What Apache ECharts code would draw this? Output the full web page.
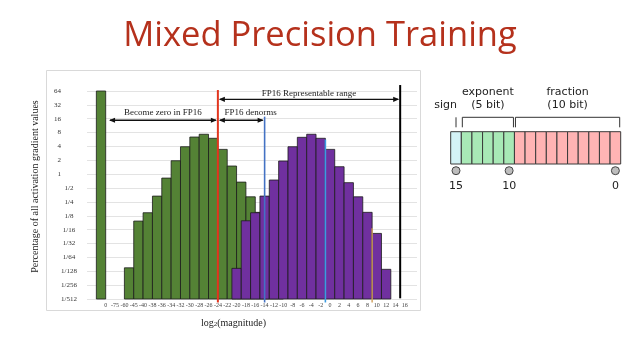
<!DOCTYPE html>
<html><head><meta charset="utf-8">
<script src="https://cdn.jsdelivr.net/npm/echarts@6/dist/echarts.min.js"></script>
<style>html,body{margin:0;padding:0;background:#fff}#c{width:640px;height:360px}</style>
</head><body><div id="c"></div>
<script>
// x-axis category labels (log2 magnitude bins)
const xLabels = ['0','-75','-60','-45','-40','-38','-36','-34','-32','-30','-28','-26','-24','-22','-20','-18','-16','-14','-12','-10','-8','-6','-4','-2','0','2','4','6','8','10','12','14','16'];
// log2(percentage of values) per bin, unscaled gradients (green)
const unscaledLog2 = [6, null, null, -6.75, -3.38, -2.78, -1.58, -0.28, 0.97, 1.98, 2.68, 2.88, 2.59, 1.79, 0.59, -0.57, -1.63, -2.75, -4.27, -6.86, null, null, null, null, null, null, null, null, null, null, null, null, null];
// log2(percentage of values) per bin, scaled gradients (purple)
const scaledLog2 = [null, null, null, null, null, null, null, null, null, null, null, null, null, null, -6.79, -3.36, -2.78, -1.58, -0.42, 0.95, 1.98, 2.66, 2.88, 2.59, 1.79, 0.54, -0.61, -1.63, -2.75, -4.27, -6.86, null, null];
// reference lines, in log2(magnitude)
const markerMagnitudes = [-24, -14, -1, 9, 15];
// FP16 bit layout
const bitGroups = [
  {name: 'sign', sub: '', bits: 1},
  {name: 'exponent', sub: '(5 bit)', bits: 5},
  {name: 'fraction', sub: '(10 bit)', bits: 10}
];
const bitNumbers = [15, 10, 0];

const SERIF = '"Liberation Serif", "DejaVu Serif", serif';
const SANS = '"DejaVu Sans", sans-serif';
const Y_MIN = -9, Y_MAX = 6;

function magToIndex(m) { return 24 + m / 2; }

function barData(arr, shift) {
  const out = [];
  arr.forEach((v, i) => { if (v != null) out.push([i + shift, v]); });
  return out;
}
function barRender(fill) {
  return function (params, api) {
    const x = api.value(0), v = api.value(1);
    const a = api.coord([x - 0.5, v]), b = api.coord([x + 0.5, Y_MIN]);
    return {type: 'rect', shape: {x: a[0], y: a[1], width: b[0] - a[0], height: b[1] - a[1]},
      style: {fill: fill, stroke: '#1c1c1c', lineWidth: 0.8}};
  };
}

const markerStyles = [
  {color: '#e2361f', width: 2, top: 6.07, bottom: -9.25},
  {color: '#4472c4', width: 1.6, top: 4.15, bottom: -9.25},
  {color: '#3b9be0', width: 1.6, top: 2.5, bottom: -9.25},
  {color: '#d1a05a', width: 1.4, top: -3.9, bottom: -9.25},
  {color: '#000000', width: 2, top: 6.43, bottom: -8.95}
];

function head(p, dir) {
  const L = 6, W = 2.6;
  return {type: 'polygon', shape: {points: [[p[0], p[1]], [p[0] - dir * L, p[1] - W], [p[0] - dir * L, p[1] + W]]},
    style: {fill: '#111'}};
}

function renderAnnotations(params, api) {
  const children = [];
  markerMagnitudes.forEach((m, k) => {
    const s = markerStyles[k];
    const xi = magToIndex(m);
    const p1 = api.coord([xi, s.top]), p2 = api.coord([xi, s.bottom]);
    children.push({type: 'line', shape: {x1: p1[0], y1: p1[1], x2: p2[0], y2: p2[1]},
      style: {stroke: s.color, lineWidth: s.width}});
  });
  const red = magToIndex(-24), blue = magToIndex(-14), black = magToIndex(15);
  const arrows = [
    {from: red, to: black, y: 5.4},
    {from: 0.25, to: red, y: 3.89},
    {from: red, to: blue, y: 3.89}
  ];
  arrows.forEach(a => {
    const p1 = api.coord([a.from, a.y]), p2 = api.coord([a.to, a.y]);
    children.push({type: 'line', shape: {x1: p1[0] + 2, y1: p1[1], x2: p2[0] - 2, y2: p2[1]},
      style: {stroke: '#111', lineWidth: 1.3}});
    children.push(head([p1[0] + 1, p1[1]], -1), head([p2[0] - 1, p2[1]], 1));
  });
  const texts = [
    {t: 'FP16 Representable range', x: (red + black) / 2, y: 5.83, align: 'center'},
    {t: 'Become zero in FP16', x: (0.25 + red) / 2, y: 4.46, align: 'center'},
    {t: 'FP16 denorms', x: red + 0.7, y: 4.46, align: 'left'}
  ];
  texts.forEach(o => {
    const p = api.coord([o.x, o.y]);
    children.push({type: 'text', x: p[0], y: p[1], style: {text: o.t, fill: '#222',
      fontFamily: SERIF, fontSize: 9, align: o.align, verticalAlign: 'middle'}});
  });
  return {type: 'group', children: children};
}

// FP16 diagram graphics
function buildDiagram() {
  const els = [];
  const x0 = 450.7, cw = 10.625, yTop = 131.7, h = 32.3;
  const fills = ['#d3f3f6', '#a8e9b6', '#ffb4b4'];
  let start = 0;
  bitGroups.forEach((g, gi) => {
    for (let b = 0; b < g.bits; b++) {
      els.push({type: 'rect', shape: {x: x0 + (start + b) * cw, y: yTop, width: cw, height: h},
        style: {fill: fills[gi], stroke: '#3a3a3a', lineWidth: 1}});
    }
    const gx1 = x0 + start * cw, gx2 = x0 + (start + g.bits) * cw;
    const cx = (gx1 + gx2) / 2;
    if (g.bits === 1) {
      els.push({type: 'line', shape: {x1: cx, y1: 117.3, x2: cx, y2: 127.3}, style: {stroke: '#333', lineWidth: 1}});
      els.push({type: 'text', x: cx + 1, y: 105, style: {text: g.name, fill: '#222', fontFamily: SANS, fontSize: 11, align: 'right', verticalAlign: 'middle'}});
    } else {
      els.push({type: 'polyline', shape: {points: [[gx1 + 1, 127.3], [gx1 + 1, 117.3], [gx2 - 1, 117.3], [gx2 - 1, 127.3]]},
        style: {stroke: '#333', lineWidth: 1, fill: 'none'}});
      els.push({type: 'text', x: cx, y: 91.7, style: {text: g.name, fill: '#222', fontFamily: SANS, fontSize: 11, align: 'center', verticalAlign: 'middle'}});
      els.push({type: 'text', x: cx, y: 105, style: {text: g.sub, fill: '#222', fontFamily: SANS, fontSize: 11, align: 'center', verticalAlign: 'middle'}});
    }
    start += g.bits;
  });
  const total = start;
  bitNumbers.forEach(n => {
    const cx = x0 + (total - 1 - n + 0.5) * cw;
    els.push({type: 'circle', shape: {cx: cx, cy: 170.7, r: 4}, style: {fill: '#bdbdbd', stroke: '#444', lineWidth: 1}});
    els.push({type: 'text', x: cx, y: 186, style: {text: String(n), fill: '#222', fontFamily: SANS, fontSize: 11, align: 'center', verticalAlign: 'middle'}});
  });
  return els;
}

function fmtY(v) {
  if (v >= 0) return '{i|' + Math.pow(2, v) + '}';
  return '{f|1/' + Math.pow(2, -v) + '}';
}

const chart = echarts.init(document.getElementById('c'), null, {renderer: 'canvas'});
chart.setOption({
  animation: false,
  backgroundColor: '#ffffff',
  title: {text: 'Mixed Precision Training', left: 'center', top: 14,
    textStyle: {color: '#b5311c', fontFamily: '"Open Sans", Lato, sans-serif', fontSize: 34.5, fontWeight: 'normal'}},
  grid: {left: 87, right: 223, top: 91, bottom: 61},
  xAxis: {
    type: 'value', min: -2, max: 33.3, interval: 1,
    axisLine: {show: false}, axisTick: {show: false}, splitLine: {show: false},
    axisLabel: {margin: 3, fontFamily: SERIF, fontSize: 6, color: '#444',
      formatter: v => (Number.isInteger(v) && v >= 0 && v < xLabels.length) ? xLabels[v] : ''},
    name: 'log{s|2}(magnitude)', nameLocation: 'middle', nameGap: 19,
    nameTextStyle: {fontFamily: SERIF, fontSize: 10, color: '#222', padding: [0, 37, 0, 0],
      rich: {s: {fontFamily: SERIF, fontSize: 7, color: '#222', verticalAlign: 'bottom'}}}
  },
  yAxis: {
    type: 'value', min: Y_MIN, max: Y_MAX, interval: 1,
    axisLine: {show: false}, axisTick: {show: false},
    splitLine: {lineStyle: {color: '#e3e3e3', width: 1}},
    axisLabel: {align: 'left', margin: 32, fontFamily: SERIF, fontSize: 7, color: '#333', formatter: fmtY,
      rich: {
        i: {width: 6, align: 'right', fontFamily: SERIF, fontSize: 7, color: '#333'},
        f: {width: 28, align: 'center', fontFamily: SERIF, fontSize: 7, color: '#333'}
      }},
    name: 'Percentage of all activation gradient values', nameLocation: 'middle', nameGap: 47, nameRotate: 90,
    nameTextStyle: {fontFamily: SERIF, fontSize: 10, color: '#222', padding: [0, 0, 0, 17]}
  },
  graphic: [{type: 'rect', shape: {x: 46.5, y: 70.5, width: 374, height: 240},
    style: {fill: 'none', stroke: '#d9d9d9', lineWidth: 1}, silent: true}].concat(buildDiagram()),
  series: [
    {name: 'Unscaled gradients', type: 'custom', renderItem: barRender('#548235'),
      data: barData(unscaledLog2, -0.5), encode: {x: 0, y: 1}, z: 2},
    {name: 'Scaled gradients', type: 'custom', renderItem: barRender('#70309f'),
      data: barData(scaledLog2, 0), encode: {x: 0, y: 1}, z: 3},
    {name: 'annotations', type: 'custom', renderItem: renderAnnotations,
      data: [[0, 0]], encode: {x: 0, y: 1}, z: 4, silent: true}
  ]
});
</script></body></html>
